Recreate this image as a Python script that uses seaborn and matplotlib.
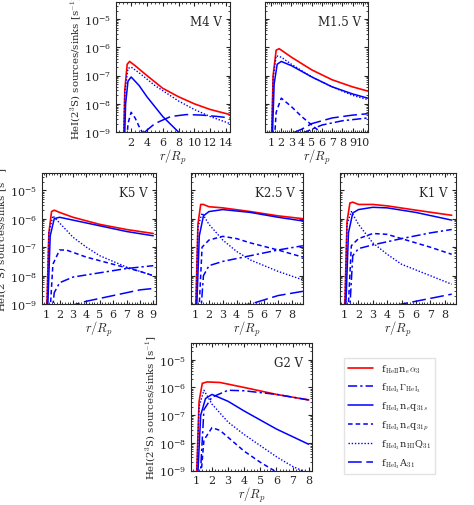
import numpy as np
import pandas as pd
import matplotlib
matplotlib.use("Agg")
import matplotlib.pyplot as plt
import seaborn as sns

sns.set_style("ticks")
plt.rcParams["font.family"] = ["DejaVu Serif"]
plt.rcParams["mathtext.fontset"] = "cm"
plt.rcParams["font.size"] = 8

# curve keys: red = f_HeII ne a3, gam = Gamma, q31s, q31p, Q31 (dotted), A31
# values are (r, log10 rate)
M4 = {
    "red": [(1.0, -10), (1.2, -7.5), (1.5, -6.6), (1.8, -6.5), (2.5, -6.65), (4, -7.0), (6, -7.45), (8, -7.75), (10, -8.0), (12, -8.2), (14.5, -8.38)],
    "Q31": [(1.0, -10), (1.2, -7.6), (1.6, -6.75), (2, -6.7), (3, -6.9), (5, -7.35), (8, -7.9), (10, -8.2), (12, -8.45), (14.5, -8.7)],
    "q31s": [(1.1, -10), (1.3, -8), (1.6, -7.2), (2, -7.05), (3, -7.35), (4, -7.75), (6, -8.45), (8, -9.0), (9, -9.3)],
    "q31p": [(1.3, -10), (1.6, -8.7), (2, -8.3), (2.5, -8.5), (3, -8.8), (3.5, -9.05)],
    "A31": [(3.5, -9.05), (5, -8.7), (7, -8.45), (9, -8.38), (11, -8.4), (13, -8.45), (14.5, -8.5)],
}
M15 = {
    "red": [(1, -10), (1.2, -7), (1.5, -6.1), (1.8, -6.05), (3, -6.35), (5, -6.8), (7, -7.15), (9, -7.4), (10.5, -7.55)],
    "Q31": [(1, -10), (1.2, -7.1), (1.5, -6.3), (2, -6.35), (3, -6.6), (5, -7.05), (7, -7.4), (9, -7.7), (10.5, -7.85)],
    "q31s": [(1.05, -10), (1.3, -7.3), (1.6, -6.6), (2, -6.5), (3, -6.65), (5, -7.05), (7, -7.4), (9, -7.65), (10.5, -7.8)],
    "q31p": [(1.2, -10), (1.5, -8.3), (2, -7.8), (3, -8.1), (4, -8.45), (5, -8.75), (6, -9.05)],
    "A31": [(3, -9.05), (4, -8.9), (5, -8.7), (7, -8.5), (9, -8.4), (10.5, -8.35)],
    "gam": [(4, -9.05), (5, -8.9), (6, -8.75), (8, -8.6), (10.5, -8.5)],
}
K5 = {
    "red": [(1, -10), (1.2, -6.5), (1.4, -5.75), (1.6, -5.7), (2, -5.78), (3, -5.95), (5, -6.2), (7, -6.38), (9, -6.52)],
    "q31s": [(1.05, -10), (1.3, -6.6), (1.6, -6.0), (2, -5.95), (3, -6.05), (5, -6.25), (7, -6.45), (9, -6.6)],
    "Q31": [(1, -10), (1.2, -6.5), (1.5, -5.9), (2, -6.15), (3, -6.65), (4, -7.0), (5, -7.3), (7, -7.7), (9, -8.0)],
    "q31p": [(1.2, -10), (1.5, -7.6), (2, -7.1), (2.5, -7.1), (4, -7.35), (6, -7.6), (8, -7.85), (9, -8.0)],
    "gam": [(1.3, -10), (1.6, -8.6), (2, -8.25), (3, -8.05), (5, -7.9), (7, -7.75), (9, -7.65)],
    "A31": [(2.5, -9.1), (4, -8.9), (6, -8.7), (8, -8.5), (9, -8.45)],
}
K25 = {
    "red": [(1, -10), (1.2, -6.2), (1.4, -5.5), (1.6, -5.5), (2, -5.58), (3, -5.62), (5, -5.75), (7, -5.9), (8.8, -6.0)],
    "q31s": [(1.05, -10), (1.3, -6.6), (1.6, -5.9), (2, -5.75), (3, -5.68), (5, -5.78), (7, -5.95), (8.8, -6.08)],
    "Q31": [(1, -10), (1.2, -6.3), (1.5, -5.8), (2, -6.2), (3, -6.75), (4, -7.15), (5, -7.45), (7, -7.85), (8.8, -8.15)],
    "q31p": [(1.2, -10), (1.5, -7.0), (2, -6.75), (3, -6.62), (4, -6.7), (5, -6.85), (7, -7.1), (8.8, -7.35)],
    "gam": [(1.3, -10), (1.6, -8.0), (2, -7.65), (3, -7.5), (5, -7.3), (7, -7.1), (8.8, -6.95)],
    "A31": [(4, -9.05), (5, -9.0), (6, -8.85), (7, -8.7), (8.8, -8.55)],
}
K1 = {
    "red": [(1, -10), (1.2, -6.1), (1.4, -5.45), (1.6, -5.42), (2, -5.5), (3, -5.5), (4, -5.55), (6, -5.7), (8.5, -5.88)],
    "q31s": [(1.05, -10), (1.3, -6.5), (1.6, -5.8), (2, -5.68), (3, -5.6), (4, -5.62), (6, -5.78), (8.5, -6.05)],
    "Q31": [(1, -10), (1.2, -6.2), (1.5, -5.75), (2, -6.2), (3, -6.85), (4, -7.25), (5, -7.6), (7, -8.0), (8.5, -8.3)],
    "q31p": [(1.2, -10), (1.5, -6.95), (2, -6.7), (3, -6.52), (4, -6.55), (5, -6.7), (7, -7.0), (8.5, -7.25)],
    "gam": [(1.3, -10), (1.6, -7.3), (2, -7.05), (3, -6.92), (5, -6.7), (7, -6.5), (8.5, -6.38)],
    "A31": [(4.5, -9.05), (6, -8.9), (7, -8.8), (8.5, -8.65)],
}
G2 = {
    "red": [(1, -10), (1.2, -6.5), (1.4, -5.85), (1.7, -5.8), (2.5, -5.82), (4, -6.0), (6, -6.25), (8, -6.45)],
    "q31s": [(1.05, -10), (1.3, -7.0), (1.6, -6.4), (2, -6.25), (3, -6.5), (4, -6.85), (6, -7.5), (8, -8.05)],
    "gam": [(1.2, -10), (1.5, -6.8), (2, -6.35), (3, -6.1), (4, -6.12), (6, -6.25), (8, -6.45)],
    "Q31": [(1, -10), (1.2, -6.7), (1.5, -6.1), (2, -6.6), (3, -7.25), (4, -7.7), (5, -8.1), (6, -8.5), (7, -8.85), (8, -9.1)],
    "q31p": [(1.2, -10), (1.5, -7.9), (2, -7.45), (2.5, -7.55), (3, -7.8), (4, -8.3), (5, -8.7), (6, -9.05)],
}

panels = [
    ("M4 V", M4, [0.245, 0.737, 0.240, 0.257], (0.1, 14.5), [2, 4, 6, 8, 10, 12, 14], True),
    ("M1.5 V", M15, [0.559, 0.737, 0.217, 0.257], (0.4, 10.5), list(range(1, 11)), False),
    ("K5 V", K5, [0.089, 0.397, 0.240, 0.259], (0.7, 9.2), list(range(1, 10)), True),
    ("K2.5 V", K25, [0.403, 0.397, 0.236, 0.259], (0.7, 8.8), list(range(1, 9)), False),
    ("K1 V", K1, [0.717, 0.397, 0.245, 0.259], (0.7, 8.8), list(range(1, 9)), False),
    ("G2 V", G2, [0.403, 0.068, 0.255, 0.252], (0.7, 8.2), list(range(1, 9)), True),
]

styles = {
    "red": dict(color="red", linestyle="-", lw=1.2),
    "gam": dict(color="blue", linestyle=(0, (6, 2, 1.5, 2)), lw=1.1),
    "q31s": dict(color="blue", linestyle="-", lw=1.1),
    "q31p": dict(color="blue", linestyle=(0, (3, 2)), lw=1.1),
    "Q31": dict(color="blue", linestyle=(0, (1, 1.3)), lw=1.0),
    "A31": dict(color="blue", linestyle=(0, (9, 3)), lw=1.1),
}
labels = {
    "red": r"f$_{\rm HeII}$n$_e\alpha_3$",
    "gam": r"f$_{\rm HeI_3}\Gamma_{\rm HeI_3}$",
    "q31s": r"f$_{\rm HeI_3}$n$_e$q$_{31s}$",
    "q31p": r"f$_{\rm HeI_3}$n$_e$q$_{31p}$",
    "Q31": r"f$_{\rm HeI_3}$n$_{\rm HI}$Q$_{31}$",
    "A31": r"f$_{\rm HeI_3}$A$_{31}$",
}

fig = plt.figure(figsize=(4.74, 5.06), dpi=100)
for name, data, pos, xlim, xt, ylab in panels:
    ax = fig.add_axes(pos)
    for key, pts in data.items():
        df = pd.DataFrame(pts, columns=["r", "lg"])
        df["v"] = 10.0 ** df["lg"]
        sns.lineplot(data=df, x="r", y="v", ax=ax, **styles[key])
    ax.set_yscale("log")
    ax.set_ylim(1e-9, 4e-5)
    ax.set_xlim(*xlim)
    ax.set_xticks(xt)
    ax.minorticks_on()
    ax.tick_params(which="both", direction="in", top=True, right=True, labelsize=8)
    ax.tick_params(which="major", length=3)
    ax.tick_params(which="minor", length=1.5)
    ax.set_xlabel(r"$r/R_p$", fontsize=9, labelpad=0)
    if ylab:
        ax.set_ylabel(r"HeI(2$^3$S) sources/sinks [s$^{-1}$]", fontsize=7.3, labelpad=1)
        ax.set_yticks([1e-9, 1e-8, 1e-7, 1e-6, 1e-5])
    else:
        ax.set_ylabel("")
        ax.set_yticklabels([])
    ax.text(0.93, 0.9, name, transform=ax.transAxes, ha="right", va="top", fontsize=8.5)

handles = [plt.Line2D([], [], **styles[k]) for k in labels]
fig.legend(handles, list(labels.values()), loc="upper left", bbox_to_anchor=(0.715, 0.3),
           fontsize=7, frameon=True, handlelength=2.6, labelspacing=0.55,
           fancybox=False, edgecolor="#dddddd")

fig.savefig("out.png", dpi=100)
